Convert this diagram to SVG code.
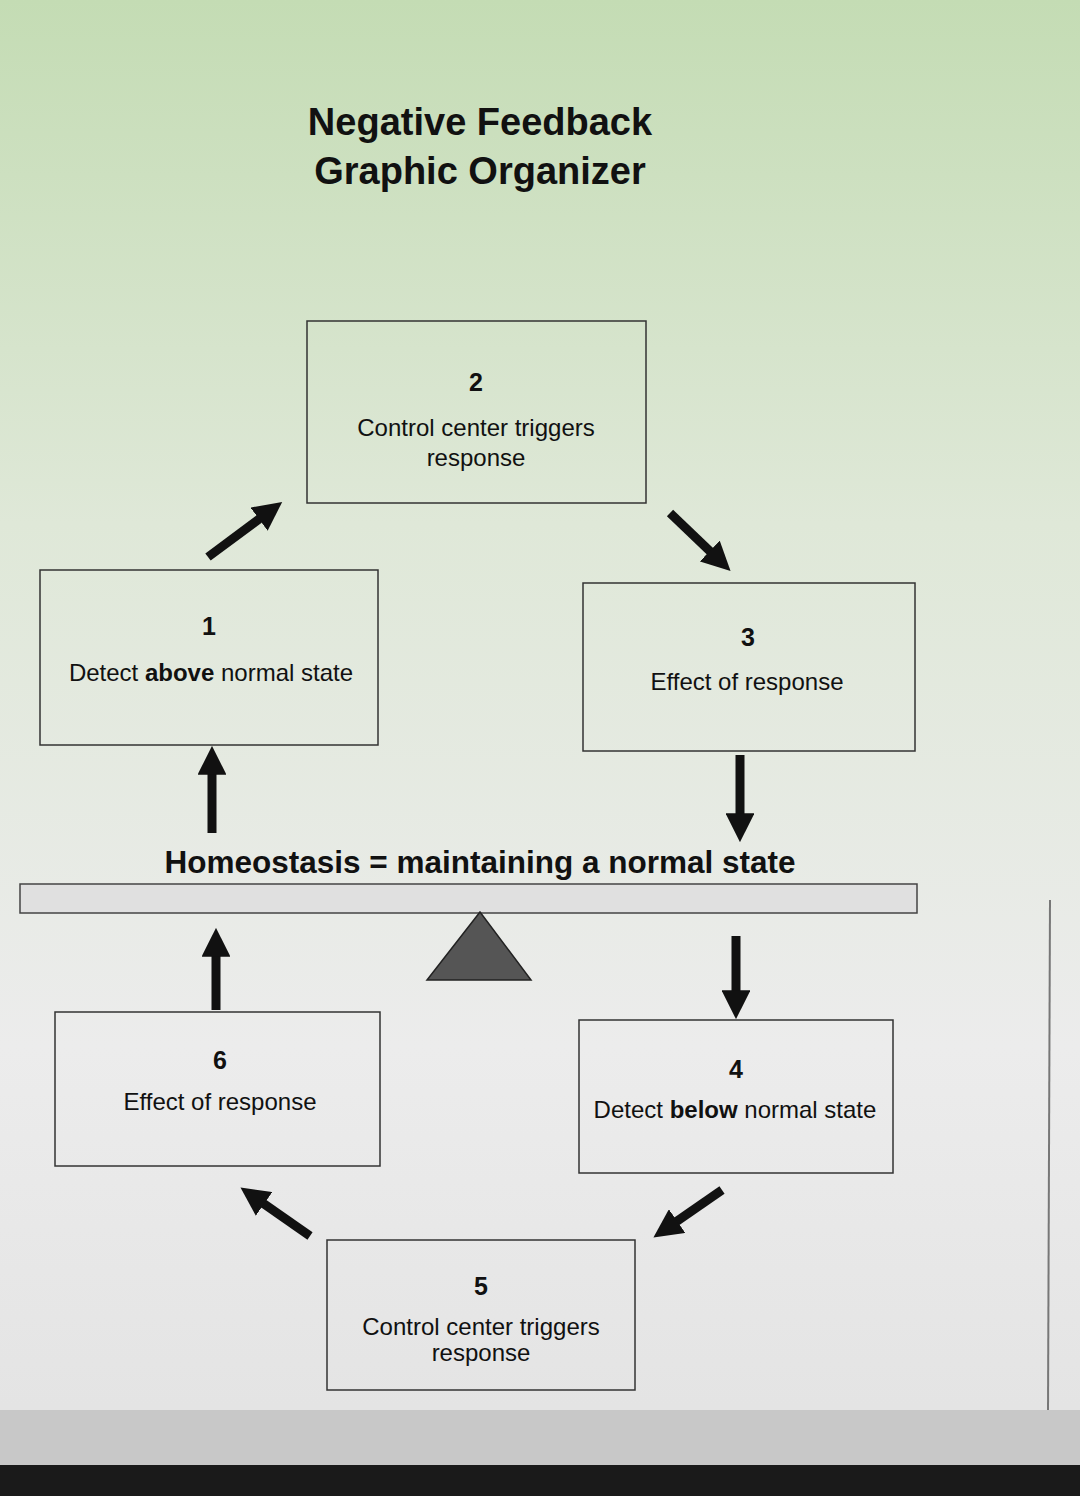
<svg xmlns="http://www.w3.org/2000/svg" width="1080" height="1496" viewBox="0 0 1080 1496">
<defs>
<linearGradient id="bg" x1="0" y1="0" x2="0" y2="1">
<stop offset="0" stop-color="#c4dcb4"/><stop offset="0.35" stop-color="#dfe8d8"/><stop offset="0.7" stop-color="#ececec"/><stop offset="1" stop-color="#e2e2e2"/>
</linearGradient>
<marker id="ah" viewBox="0 0 10 10" refX="3" refY="5" markerWidth="3.2" markerHeight="3.2" orient="auto-start-reverse">
<path d="M0,0 L10,5 L0,10 z" fill="#111"/>
</marker>
<style>
.box{fill:none;stroke:#333;stroke-width:1.5}
.t{font-family:"Liberation Sans",Arial,sans-serif;fill:#111;text-anchor:middle}
.n{font-size:25px;font-weight:bold}
.l{font-size:24px}
.a{stroke:#111;stroke-width:9;fill:none;marker-end:url(#ah)}
</style>
</defs>
<rect width="1080" height="1496" fill="url(#bg)"/>
<rect x="0" y="1410" width="1080" height="55" fill="#c8c8c8"/>
<rect x="0" y="1465" width="1080" height="31" fill="#1a1a1a"/>
<line x1="1050" y1="900" x2="1048" y2="1410" stroke="#777" stroke-width="2"/>
<text class="t" x="480" y="135" font-size="38" font-weight="bold">Negative Feedback</text>
<text class="t" x="480" y="184" font-size="38" font-weight="bold">Graphic Organizer</text>
<g id="node2"><rect class="box" x="307" y="321" width="339" height="182"/>
<text class="t n" x="476" y="391">2</text><text class="t l" x="476" y="436">Control center triggers</text><text class="t l" x="476" y="466">response</text></g>
<g id="node1"><rect class="box" x="40" y="570" width="338" height="175"/>
<text class="t n" x="209" y="635">1</text><text class="t l" x="211" y="681">Detect <tspan font-weight="bold">above</tspan> normal state</text></g>
<g id="node3"><rect class="box" x="583" y="583" width="332" height="168"/>
<text class="t n" x="748" y="646">3</text><text class="t l" x="747" y="690">Effect of response</text></g>
<g id="homeostasis"><text class="t" x="480" y="873" font-size="31.5" font-weight="bold">Homeostasis = maintaining a normal state</text>
<rect x="20" y="884" width="897" height="29" fill="#e0e0e0" stroke="#444" stroke-width="1.5"/>
<polygon points="480,912 427,980 531,980" fill="#555" stroke="#222" stroke-width="1.5"/></g>
<g id="node6"><rect class="box" x="55" y="1012" width="325" height="154"/>
<text class="t n" x="220" y="1069">6</text><text class="t l" x="220" y="1110">Effect of response</text></g>
<g id="node4"><rect class="box" x="579" y="1020" width="314" height="153"/>
<text class="t n" x="736" y="1078">4</text><text class="t l" x="735" y="1118">Detect <tspan font-weight="bold">below</tspan> normal state</text></g>
<g id="node5"><rect class="box" x="327" y="1240" width="308" height="150"/>
<text class="t n" x="481" y="1295">5</text><text class="t l" x="481" y="1335">Control center triggers</text><text class="t l" x="481" y="1361">response</text></g>
<g id="connectors">
<line class="a" x1="208" y1="557" x2="266" y2="514"/>
<line class="a" x1="670" y1="513" x2="716" y2="557"/>
<line class="a" x1="740" y1="755" x2="740" y2="822"/>
<line class="a" x1="212" y1="833" x2="212" y2="766"/>
<line class="a" x1="736" y1="936" x2="736" y2="999"/>
<line class="a" x1="216" y1="1010" x2="216" y2="948"/>
<line class="a" x1="722" y1="1190" x2="670" y2="1226"/>
<line class="a" x1="310" y1="1236" x2="257" y2="1199"/>
</g>
</svg>
